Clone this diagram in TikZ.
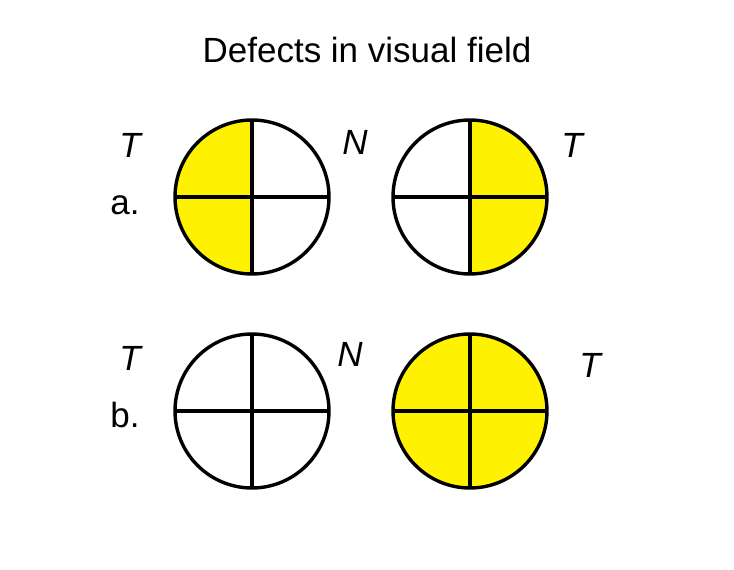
\documentclass[tikz,border=0pt]{standalone}
\usepackage{fontspec}
\setmainfont{Liberation Sans}
\begin{document}
\begin{tikzpicture}[x=1pt,y=-1pt,
  ring/.style={line width=3.4pt},
  lbl/.style={font=\fontsize{35}{37}\selectfont},
  ilbl/.style={font=\fontsize{35}{37}\selectfont\itshape}]
\useasboundingbox[fill=white] (0,0) rectangle (734,570);
\node[lbl] (title) at (367,50) {Defects in visual field};
% row a
\coordinate (a1) at (252,197);
\coordinate (a2) at (470,197);
\fill[yellow] (a1) -- ++(0,-77) arc[start angle=-90,end angle=-270,radius=77] -- cycle;
\fill[yellow] (a2) -- ++(0,-77) arc[start angle=-90,end angle=90,radius=77] -- cycle;
% row b
\coordinate (b1) at (252,411);
\coordinate (b2) at (470,411);
\fill[yellow] (b2) circle[radius=77];
\foreach \c in {a1,a2,b1,b2}{
  \draw[ring] (\c) circle[radius=77];
  \draw[ring] ([xshift=-77]\c) -- ([xshift=77]\c);
  \draw[ring] ([yshift=-77]\c) -- ([yshift=77]\c);
}
\node[ilbl] (ta1) at (130,145) {T};
\node[ilbl] (na) at (355,142) {N};
\node[ilbl] (ta2) at (572,145) {T};
\node[lbl] (la) at (125,205) {a.};
\node[ilbl] (tb1) at (130,358) {T};
\node[ilbl] (nb) at (350,354) {N};
\node[ilbl] (tb2) at (590,365) {T};
\node[lbl] (lb) at (125,415) {b.};
\end{tikzpicture}
\end{document}
